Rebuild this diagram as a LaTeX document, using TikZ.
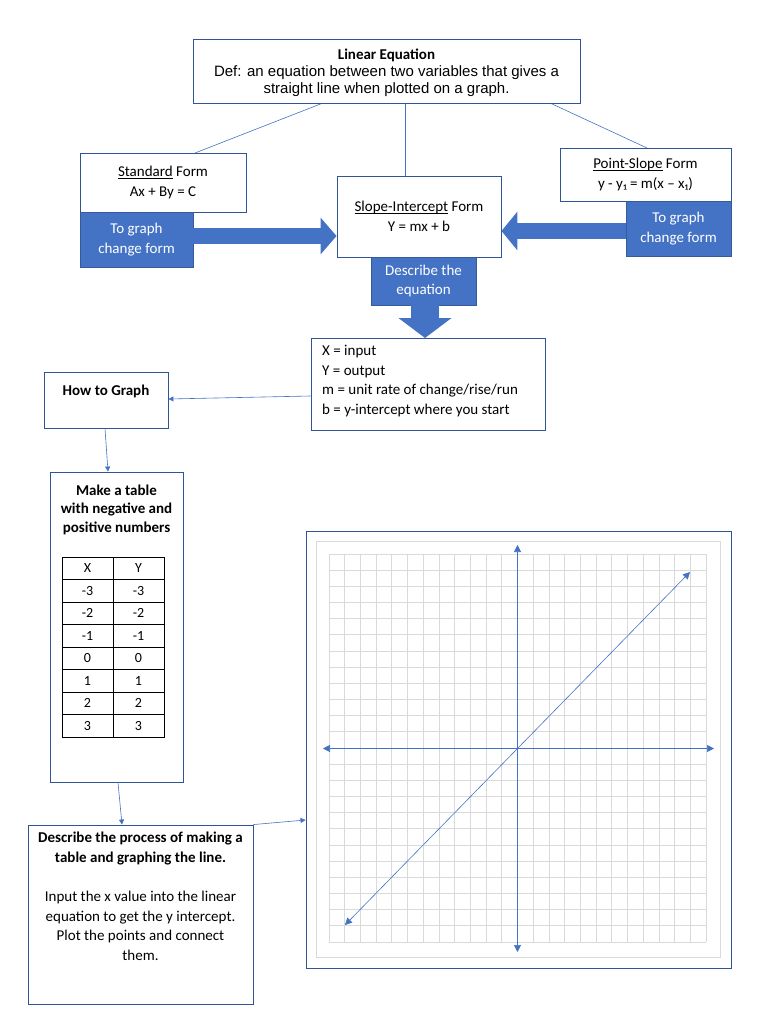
\documentclass[tikz,border=0pt]{standalone}
\usepackage{fontspec}
\setmainfont{Carlito}
\newfontfamily\arialf{Liberation Sans}
\usetikzlibrary{arrows.meta}
\definecolor{bdr}{HTML}{2F5597}
\definecolor{accent}{HTML}{4472C4}
\definecolor{gridc}{HTML}{D9D9D9}
\newcommand{\fsz}{\fontsize{15}{19.5}\selectfont}
\newcommand{\ulx}[1]{\leavevmode\setbox0\hbox{#1}\rlap{\rule[-1.9pt]{\wd0}{0.7pt}}\box0\relax}
\begin{document}
\begin{tikzpicture}[x=1pt,y=-1pt,
  box/.style={draw=bdr, line width=0.9pt, fill=white, rectangle, inner sep=0pt},
  bluebox/.style={fill=accent, draw=accent!80!black, line width=0.5pt, rectangle, inner sep=0pt, text=white, align=center, font=\fsz},
  txt/.style={align=center, font=\fsz, inner sep=0pt},
  conn/.style={draw=accent, line width=0.6pt},
  arr/.style={conn, -{Triangle[length=5pt,width=5pt]}},
  bigarr/.style={draw=accent, -{Triangle[length=#1]}},
  axis/.style={draw=accent, line width=0.7pt, {Triangle[length=7pt,width=7pt]}-{Triangle[length=7pt,width=7pt]}}
]
\useasboundingbox (0,0) rectangle (768,1024);
\fill[white] (0,0) rectangle (768,1024);

% connectors from top box
\draw[conn] (323,103) coordinate (c1) -- (195,153) coordinate (c2);
\draw[conn] (405,103) -- (405,176);
\draw[conn] (550,103) -- (647,148);

% top box
\node[box, minimum width=387pt, minimum height=64pt] (top) at (386.5,71) {};
\node[txt, font=\bfseries\fontsize{15}{17}\selectfont] (t1) at (386.5,55) {Linear Equation};
\node[txt, font=\arialf\fontsize{15}{16.5}\selectfont] (t2) at (386.5,81) {Def: an equation between two variables that gives a\\straight line when plotted on a graph.};

% standard form
\node[box, minimum width=166pt, minimum height=59pt, align=center, font=\fsz] (std) at (163,182.5) {\ulx{Standard} Form\\Ax + By = C};
\node[bluebox, minimum width=113pt, minimum height=55pt] (blueL) at (136.5,239.5) {To graph\\change form};

% slope-intercept
\node[box, minimum width=164pt, minimum height=81pt, align=center, font=\fsz] (si) at (419,216.5) {\ulx{Slope-Intercept} Form\\Y = mx + b};

% point-slope
\node[box, minimum width=171pt, minimum height=53pt, align=center, font=\fsz] (ps) at (645.5,174.5) {\ulx{Point-Slope} Form\\y - y₁ = m(x – x₁)};
\node[bluebox, minimum width=105pt, minimum height=55pt] (blueR) at (678.5,228.5) {To graph\\change form};

% describe the equation
\node[bluebox, minimum width=105pt, minimum height=48pt] (desc) at (423.5,281) {Describe the\\equation};

% big arrows
\draw[bigarr=16pt, line width=15pt, -{Triangle[length=16pt,width=36pt]}] (blueL.east |- 0,236) -- (si.west |- 0,236);
\draw[bigarr=16pt, line width=15pt, -{Triangle[length=16pt,width=38pt]}] (blueR.west |- 0,231) -- (si.east |- 0,231);
\draw[bigarr=20pt, line width=28pt, -{Triangle[length=20pt,width=52pt]}] (desc.south -| 425,0) -- (425,338);

% variables box
\node[box, minimum width=234pt, minimum height=92pt] (xbox) at (428,384) {};
\node[txt, align=left, anchor=west] (xt) at (322,381) {X = input\\Y = output\\m = unit rate of change/rise/run\\b = y-intercept where you start};

% how to graph
\node[box, minimum width=124pt, minimum height=56pt] (how) at (106,400) {};
\node[txt, font=\bfseries\fsz] (howt) at (106,391) {How to Graph};
\draw[arr] (xbox.west |- 0,396) -- (how.east |- 0,399);

% table box
\node[box, minimum width=133pt, minimum height=310pt] (tbl) at (116.5,627) {};
\node[txt, font=\bfseries\fontsize{15}{18.5}\selectfont] (tblt) at (116.5,509.5) {Make a table\\with negative and\\positive numbers};
\draw[arr] (how.south -| 105,0) -- (tbl.north -| 108,0);

% table
\draw[black, line width=0.7pt] (62,557) rectangle (164,737);
\draw[black, line width=0.7pt] (113,557) -- (113,737);
\foreach \r in {1,...,7} \draw[black, line width=0.6pt] (62,{557+\r*22.5}) -- (164,{557+\r*22.5});
\foreach \a/\b [count=\k from 0] in {X/Y,-3/-3,-2/-2,-1/-1,0/0,1/1,2/2,3/3}{
  \node[txt, font=\fontsize{14}{16}\selectfont] (ca\k) at (87.5,{568.25+\k*22.5}) {\a};
  \node[txt, font=\fontsize{14}{16}\selectfont] (cb\k) at (138.5,{568.25+\k*22.5}) {\b};
}

% describe the process box
\node[box, minimum width=225pt, minimum height=179pt] (descr) at (140.5,914.5) {};
\node[txt, font=\bfseries\fsz] (dt1) at (140.5,848.5) {Describe the process of making a\\table and graphing the line.};
\node[txt] (dt2) at (140.5,926) {Input the x value into the linear\\equation to get the y intercept.\\Plot the points and connect\\them.};
\draw[arr] (tbl.south -| 118,0) -- (descr.north -| 122,0);

% graph
\node[box, minimum width=425pt, minimum height=437pt] (graph) at (518.5,749.5) {};
\draw[arr] (descr.north east) -- (graph.west |- 0,820);
\draw[gridc, line width=0.8pt] (316,541) rectangle (720,957);
\foreach \i in {0,...,24} {
  \draw[gridc, line width=0.7pt] ({329+\i*377/24},554) -- ({329+\i*377/24},942);
  \draw[gridc, line width=0.7pt] (329,{554+\i*388/24}) -- (706,{554+\i*388/24});
}
\coordinate (O) at (517.5,748.5);
\draw[axis] (O |- 0,545) -- (O |- 0,952);
\draw[axis] (O -| 323,0) -- (O -| 714,0);
\draw[axis, line width=0.6pt] (345,925) -- (690,572);
\end{tikzpicture}
\end{document}
